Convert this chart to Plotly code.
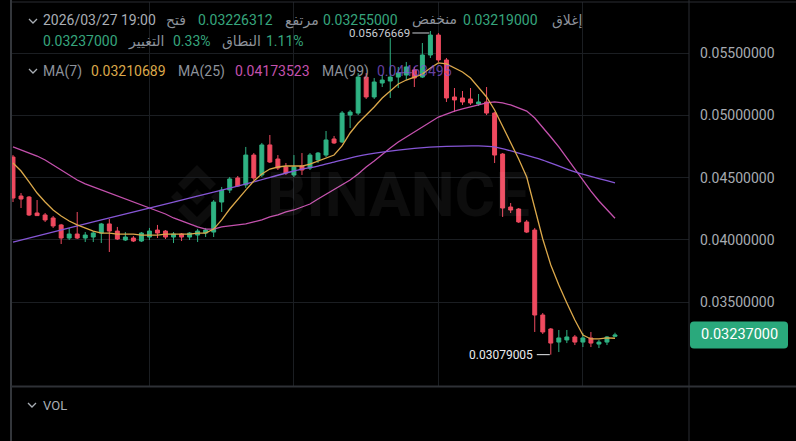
import plotly.graph_objects as go

# ---------------- data ----------------
open_ = [0.04665, 0.04352, 0.04344, 0.04216, 0.04200, 0.04176, 0.04120, 0.04015, 0.04047, 0.04015,
         0.04023, 0.04055, 0.04128, 0.04071, 0.03999, 0.04015, 0.03991, 0.04023, 0.04079, 0.04071,
         0.04023, 0.04047, 0.04023, 0.04039, 0.04055, 0.04063, 0.04304, 0.04400, 0.04497, 0.04441,
         0.04681, 0.04521, 0.04762, 0.04649, 0.04585, 0.04521, 0.04593, 0.04577, 0.04641, 0.04681,
         0.04810, 0.04786, 0.05002, 0.05018, 0.05307, 0.05147, 0.05259, 0.05275, 0.05307, 0.05323,
         0.05364, 0.05307, 0.05484, 0.05644, 0.05444, 0.05147, 0.05139, 0.05131, 0.05091, 0.05107,
         0.05018, 0.04689, 0.04264, 0.04248, 0.04144, 0.04079, 0.03397, 0.03285, 0.03180, 0.03197,
         0.03221, 0.03180, 0.03213, 0.03164, 0.03180, 0.03226312]
high = [0.04681, 0.04376, 0.04352, 0.04320, 0.04216, 0.04192, 0.04128, 0.04096, 0.04224, 0.04063,
        0.04071, 0.04136, 0.04168, 0.04104, 0.04063, 0.04031, 0.04063, 0.04096, 0.04120, 0.04079,
        0.04063, 0.04055, 0.04063, 0.04088, 0.04096, 0.04320, 0.04425, 0.04505, 0.04513, 0.04746,
        0.04697, 0.04778, 0.04842, 0.04681, 0.04617, 0.04681, 0.04697, 0.04697, 0.04705, 0.04874,
        0.04834, 0.05034, 0.05042, 0.05339, 0.05339, 0.05299, 0.05323, 0.05620, 0.05388, 0.05428,
        0.05388, 0.05580, 0.05676669, 0.05660, 0.05460, 0.05219, 0.05195, 0.05219, 0.05171, 0.05227,
        0.05026, 0.04697, 0.04296, 0.04256, 0.04160, 0.04096, 0.03413, 0.03293, 0.03277, 0.03277,
        0.03237, 0.03253, 0.03261, 0.03197, 0.03229, 0.03255000]
low = [0.04304, 0.04256, 0.04192, 0.04192, 0.04144, 0.04096, 0.03967, 0.03999, 0.04007, 0.03983,
       0.03983, 0.03975, 0.03903, 0.03999, 0.03991, 0.03983, 0.03983, 0.03999, 0.04015, 0.04007,
       0.03975, 0.03991, 0.03999, 0.03983, 0.04023, 0.04023, 0.04224, 0.04376, 0.04425, 0.04417,
       0.04481, 0.04505, 0.04617, 0.04561, 0.04521, 0.04505, 0.04521, 0.04561, 0.04617, 0.04665,
       0.04770, 0.04778, 0.04898, 0.05002, 0.05131, 0.05131, 0.05227, 0.05139, 0.05219, 0.05283,
       0.05227, 0.05299, 0.05460, 0.05428, 0.05107, 0.05026, 0.05083, 0.05083, 0.05075, 0.05002,
       0.04617, 0.04184, 0.04216, 0.04136, 0.04055, 0.03261, 0.03245, 0.03079005, 0.03100, 0.03172,
       0.03156, 0.03140, 0.03140, 0.03132, 0.03156, 0.03219000]
close = [0.04336, 0.04328, 0.04200, 0.04195, 0.04160, 0.04112, 0.04015, 0.04047, 0.04015, 0.04039,
         0.04055, 0.04128, 0.04071, 0.04007, 0.04023, 0.03991, 0.04055, 0.04071, 0.04055, 0.04023,
         0.04047, 0.04023, 0.04055, 0.04071, 0.04079, 0.04304, 0.04400, 0.04489, 0.04433, 0.04681,
         0.04497, 0.04762, 0.04625, 0.04577, 0.04537, 0.04585, 0.04561, 0.04681, 0.04697, 0.04802,
         0.04778, 0.05018, 0.05026, 0.05307, 0.05147, 0.05267, 0.05283, 0.05307, 0.05339, 0.05388,
         0.05299, 0.05484, 0.05644, 0.05444, 0.05139, 0.05123, 0.05107, 0.05099, 0.05107, 0.05018,
         0.04681, 0.04256, 0.04240, 0.04144, 0.04063, 0.03397, 0.03261, 0.03172, 0.03213, 0.03221,
         0.03180, 0.03213, 0.03172, 0.03180, 0.03221, 0.03237000]

ma7 = [0.04617, 0.04553, 0.04465, 0.04376, 0.04304, 0.04240, 0.04192, 0.04152, 0.04120, 0.04095,
       0.04071, 0.04055, 0.04055, 0.04047, 0.04047, 0.04047, 0.04039, 0.04039, 0.04039, 0.04047,
       0.04047, 0.04047, 0.04047, 0.04055, 0.04055, 0.04087, 0.04160, 0.04248, 0.04320, 0.04400,
       0.04473, 0.04529, 0.04569, 0.04585, 0.04593, 0.04593, 0.04593, 0.04609, 0.04633, 0.04657,
       0.04681, 0.04754, 0.04858, 0.04938, 0.05002, 0.05067, 0.05139, 0.05195, 0.05251, 0.05283,
       0.05307, 0.05331, 0.05380, 0.05420, 0.05412, 0.05380, 0.05348, 0.05299, 0.05219, 0.05147,
       0.05043, 0.04914, 0.04786, 0.04649, 0.04505, 0.04256, 0.04007, 0.03799, 0.03638, 0.03494,
       0.03357, 0.03237, 0.03205, 0.03205, 0.03213, 0.03210689]
ma25 = [0.04746, 0.04722, 0.04697, 0.04673, 0.04641, 0.04601, 0.04561, 0.04521, 0.04481, 0.04449,
        0.04425, 0.04400, 0.04376, 0.04352, 0.04328, 0.04304, 0.04280, 0.04256, 0.04232, 0.04208,
        0.04176, 0.04152, 0.04128, 0.04104, 0.04087, 0.04087, 0.04104, 0.04112, 0.04120, 0.04128,
        0.04144, 0.04160, 0.04184, 0.04200, 0.04224, 0.04240, 0.04264, 0.04288, 0.04328, 0.04368,
        0.04408, 0.04441, 0.04481, 0.04529, 0.04585, 0.04633, 0.04689, 0.04738, 0.04786, 0.04826,
        0.04866, 0.04906, 0.04946, 0.04986, 0.05010, 0.05034, 0.05051, 0.05067, 0.05083, 0.05099,
        0.05107, 0.05099, 0.05083, 0.05059, 0.05034, 0.04978, 0.04906, 0.04826, 0.04746, 0.04657,
        0.04569, 0.04481, 0.04392, 0.04312, 0.04240, 0.04173523]
ma99_idx = [0, 10, 20, 25, 30, 35, 38, 40, 43, 46, 50, 54, 58, 60, 63, 66, 70, 75]
ma99 = [0.03983, 0.04144, 0.04304, 0.04384, 0.04465, 0.04553, 0.04593, 0.04625, 0.04673, 0.04705,
        0.04734, 0.04750, 0.04754, 0.04746, 0.04697, 0.04641, 0.04545, 0.04457]

header_date = "2026/03/27 19:00"
lbl_open, lbl_high, lbl_low, lbl_close = "فتح", "مرتفع", "منخفض", "إغلاق"
lbl_change, lbl_range = "التغيير", "النطاق"
change_pct, range_pct = "0.33%", "1.11%"
ma99_last = 0.04463495
price_ticks = [0.035, 0.040, 0.045, 0.050, 0.055]

# ---------------- style ----------------
W, H = 796, 441
L, R, T, B = 11, 689, 2, 386          # plot area in pixels
BG = "#000000"
GREEN = "#2fb283"
RED = "#ef4a5f"
TXT_GREEN = "#36a57d"
GRAY = "#8d929a"
LIGHT = "#a9aeb5"
C7, C25, C99 = "#dba84a", "#c451ad", "#8656d6"
GRID = "#1b1e22"
BORDER = "#2a2d32"
FONT = "Roboto, 'DejaVu Sans', sans-serif"


def PX(x):
    return (x - L) / (R - L)


def PY(y):
    return (B - y) / (B - T)


n = len(close)
x = list(range(n))

fig = go.Figure()
fig.add_trace(go.Candlestick(
    x=x, open=open_, high=high, low=low, close=close,
    increasing=dict(line=dict(color=GREEN, width=1), fillcolor=GREEN),
    decreasing=dict(line=dict(color=RED, width=1), fillcolor=RED),
    whiskerwidth=0, hoverinfo="skip", showlegend=False))
fig.add_trace(go.Scatter(x=x, y=ma25, mode="lines", line=dict(color=C25, width=1.3),
                         hoverinfo="skip", showlegend=False))
fig.add_trace(go.Scatter(x=ma99_idx, y=ma99, mode="lines", line=dict(color=C99, width=1.3, shape="spline", smoothing=0.5),
                         hoverinfo="skip", showlegend=False))
fig.add_trace(go.Scatter(x=x, y=ma7, mode="lines", line=dict(color=C7, width=1.3),
                         hoverinfo="skip", showlegend=False))

shapes = []
ann = []

# borders / panel dividers
shapes += [
    dict(type="line", xref="paper", yref="paper", x0=PX(11), x1=PX(796), y0=PY(2), y1=PY(2), line=dict(color=BORDER, width=1)),
    dict(type="line", xref="paper", yref="paper", x0=PX(11), x1=PX(11), y0=PY(0), y1=PY(441), line=dict(color="#33363b", width=2)),
    dict(type="line", xref="paper", yref="paper", x0=PX(689), x1=PX(689), y0=PY(0), y1=PY(441), line=dict(color=BORDER, width=1)),
    dict(type="line", xref="paper", yref="paper", x0=PX(11), x1=PX(796), y0=PY(386.5), y1=PY(386.5), line=dict(color="#2e3136", width=2)),
]

# watermark logo (faint)
cx, cy = 197, 197
wm = "rgba(255,255,255,0.05)"


def poly(pts):
    return "M " + " L ".join(f"{PX(a):.5f},{PY(b):.5f}" for a, b in pts) + " Z"


logo = [
    [(cx, cy - 8), (cx + 8, cy), (cx, cy + 8), (cx - 8, cy)],
    [(cx - 20, cy - 6), (cx - 14, cy), (cx - 20, cy + 6), (cx - 26, cy)],
    [(cx + 20, cy - 6), (cx + 26, cy), (cx + 20, cy + 6), (cx + 14, cy)],
    [(cx, cy - 32), (cx + 19, cy - 13), (cx + 13, cy - 7), (cx, cy - 20), (cx - 13, cy - 7), (cx - 19, cy - 13)],
    [(cx, cy + 32), (cx + 19, cy + 13), (cx + 13, cy + 7), (cx, cy + 20), (cx - 13, cy + 7), (cx - 19, cy + 13)],
]
for p in logo:
    shapes.append(dict(type="path", xref="paper", yref="paper", path=poly(p), fillcolor=wm, line=dict(width=0), layer="below"))
ann.append(dict(xref="paper", yref="paper", x=PX(398), y=PY(194), text="<b>BINANCE</b>", showarrow=False,
                font=dict(family=FONT, size=62, color="rgba(255,255,255,0.05)"), xanchor="center", yanchor="middle"))


# chevrons
def chevron(x0, y0):
    return dict(type="path", xref="paper", yref="paper",
                path=f"M {PX(x0):.5f},{PY(y0):.5f} L {PX(x0+4):.5f},{PY(y0+4):.5f} L {PX(x0+8):.5f},{PY(y0):.5f}",
                line=dict(color=LIGHT, width=1.3))


shapes += [chevron(29, 19), chevron(29, 69), chevron(28, 403)]


def text(xp, yp, s, color, size=14):
    ann.append(dict(xref="paper", yref="paper", x=PX(xp), y=PY(yp), text=s, showarrow=False,
                    xanchor="left", yanchor="middle", borderpad=0, borderwidth=0,
                    font=dict(family=FONT, size=size, color=color)))


# header line 1
text(43, 20, header_date, LIGHT)
text(166, 20, lbl_open, GRAY)
text(198, 20, f"{open_[-1]:.8f}", TXT_GREEN)
text(285, 20, lbl_high, GRAY)
text(323, 20, f"{high[-1]:.8f}", TXT_GREEN)
text(412, 19, lbl_low, GRAY)
text(463, 20, f"{low[-1]:.8f}", TXT_GREEN)
text(552, 20, lbl_close, GRAY)
# header line 2
text(43, 41, f"{close[-1]:.8f}", TXT_GREEN)
text(128, 41, lbl_change, GRAY)
text(173, 41, change_pct, TXT_GREEN)
text(222, 41, lbl_range, GRAY)
text(266, 41, range_pct, TXT_GREEN)
# MA line
text(43, 71, "MA(7)", GRAY)
text(91, 71, f"{ma7[-1]:.8f}", C7)
text(178, 71, "MA(25)", GRAY)
text(235, 71, f"{ma25[-1]:.8f}", C25)
text(322, 71, "MA(99)", GRAY)
text(377, 71, f"{ma99_last:.8f}", "rgba(134,86,214,0.75)")
# VOL panel
text(43, 405, "VOL", LIGHT, 13)

# high / low markers
i_hi = high.index(max(high))
i_lo = low.index(min(low))
shapes.append(dict(type="line", xref="x", yref="y", xsizemode="pixel", xanchor=i_hi, x0=-18, x1=-1,
                   ysizemode="pixel", yanchor=high[i_hi], y0=-2, y1=-2, line=dict(color="#c9cdd3", width=1)))
ann.append(dict(xref="x", yref="y", x=i_hi, y=high[i_hi], xshift=-19, yshift=-2, text=f"{high[i_hi]:.8f}", showarrow=False,
                xanchor="right", yanchor="middle", borderpad=0, font=dict(family=FONT, size=11.5, color="#c9cdd3")))
shapes.append(dict(type="line", xref="x", yref="y", xsizemode="pixel", xanchor=i_lo, x0=-14, x1=-1,
                   y0=low[i_lo], y1=low[i_lo], line=dict(color="#eaecef", width=1)))
ann.append(dict(xref="x", yref="y", x=i_lo, y=low[i_lo], xshift=-17, text=f"{low[i_lo]:.8f}", showarrow=False,
                xanchor="right", yanchor="middle", borderpad=0, font=dict(family=FONT, size=12, color="#eaecef")))

# last price tag
shapes.append(dict(type="path", xref="paper", yref="y", xsizemode="pixel", ysizemode="pixel",
                   xanchor=1, yanchor=close[-1],
                   path="M 5,13.5 L 95,13.5 Q 99,13.5 99,9.5 L 99,-9.5 Q 99,-13.5 95,-13.5 L 5,-13.5 "
                        "Q 1,-13.5 1,-9.5 L 1,9.5 Q 1,13.5 5,13.5 Z",
                   fillcolor="#2aa97c", line=dict(width=0)))
ann.append(dict(xref="paper", yref="y", x=1, xshift=50, y=close[-1], text=f"{close[-1]:.8f}", showarrow=False,
                xanchor="center", yanchor="middle", borderpad=0, font=dict(family=FONT, size=14.5, color="#ffffff")))

# axis ranges that put the candles where they sit in the picture
px_per_bar = 8.027
x_range = [-(13 - L) / px_per_bar, (n - 1) + (R - 615) / px_per_bar]
px_per_unit = 12460.0
y_top = 0.055 + (53 - T) / px_per_unit
y_bot = 0.055 - (B - 53) / px_per_unit

fig.update_layout(
    width=W, height=H,
    margin=dict(l=L, r=W - R, t=T, b=H - B),
    paper_bgcolor=BG, plot_bgcolor=BG,
    showlegend=False, hovermode=False,
    shapes=shapes, annotations=ann,
    xaxis=dict(range=x_range, rangeslider=dict(visible=False), showticklabels=False,
               tickmode="array", tickvals=[17, 35, 53, 71], showgrid=True, gridcolor=GRID, gridwidth=1,
               zeroline=False, showline=False, fixedrange=True),
    yaxis=dict(range=[y_bot, y_top], side="right", tickmode="array", tickvals=price_ticks,
               tickformat=".8f", showgrid=True, gridcolor=GRID, gridwidth=1, zeroline=False,
               showline=False, ticks="", ticklabelstandoff=10,
               tickfont=dict(family=FONT, size=14, color="#a7abb1"), fixedrange=True),
)

fig.write_html("out.html", config={"displayModeBar": False},
               post_script="document.body.style.margin='0';document.body.style.background='#000';"
                           "document.body.style.overflow='hidden';")
